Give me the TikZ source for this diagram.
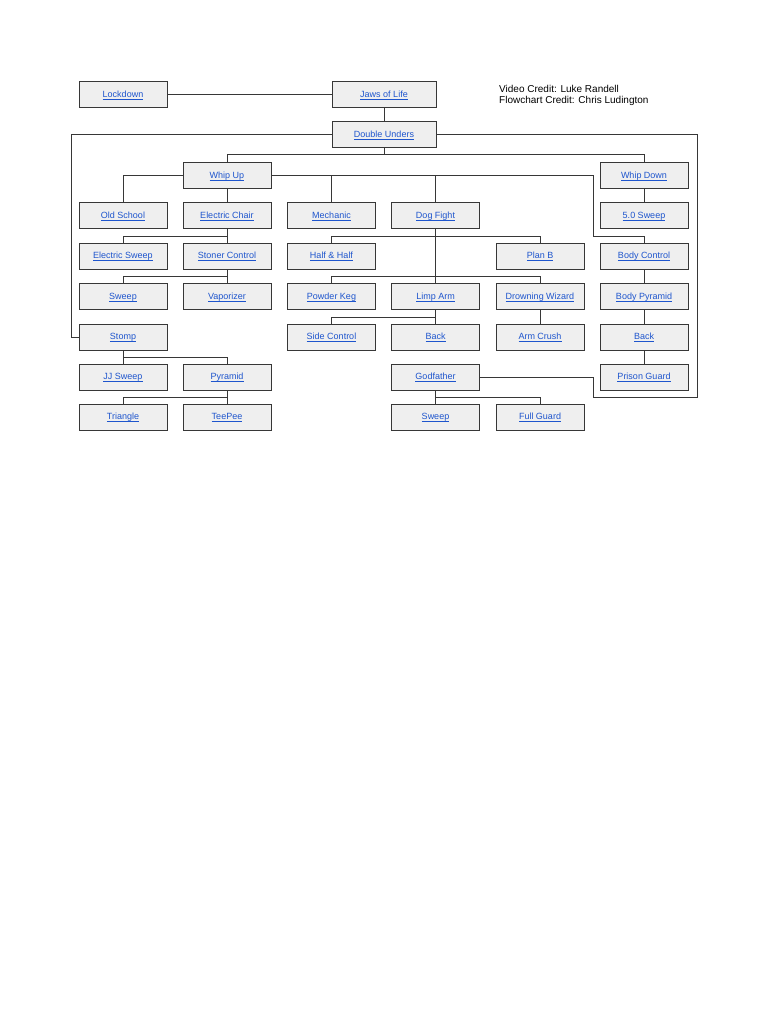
\documentclass[tikz,border=0pt]{standalone}
\usepackage{fontspec}
\setmainfont{Liberation Sans}
\definecolor{boxfill}{RGB}{239,239,239}
\definecolor{boxline}{RGB}{55,55,55}
\definecolor{conn}{RGB}{55,55,55}
\definecolor{linkblue}{RGB}{30,85,205}
\newcommand{\lnk}[1]{\setbox0\hbox{#1}\rlap{\rule[-2pt]{\wd0}{0.6pt}}\box0}
\begin{document}
\begin{tikzpicture}[x=1pt,y=-1pt,
  box/.style={draw=boxline, fill=boxfill, line width=1pt, minimum width=88pt,
    minimum height=26pt, inner sep=0pt, text=linkblue, text height=6.5pt,
    text depth=0.8pt, font=\fontsize{9}{11}\selectfont},
  wide/.style={box, minimum width=104pt},
  link/.style={draw=conn, line width=1pt}]
\useasboundingbox (0,0) rectangle (768,1024);
% nodes
\node[box]  (lock) at (123,95)    {\lnk{Lockdown}};
\node[wide] (jaws) at (384,95)    {\lnk{Jaws of Life}};
\node[wide] (du)   at (384,135)   {\lnk{Double Unders}};
\node[box]  (wu)   at (227,175.5) {\lnk{Whip Up}};
\node[box]  (wd)   at (644,175.5) {\lnk{Whip Down}};
\node[box]  (os)   at (123,216)   {\lnk{Old School}};
\node[box]  (ec)   at (227,216)   {\lnk{Electric Chair}};
\node[box]  (mech) at (331.5,216) {\lnk{Mechanic}};
\node[box]  (df)   at (435.5,216) {\lnk{Dog Fight}};
\node[box]  (s50)  at (644,216)   {\lnk{5.0 Sweep}};
\node[box]  (es)   at (123,256)   {\lnk{Electric Sweep}};
\node[box]  (sc)   at (227,256)   {\lnk{Stoner Control}};
\node[box]  (hh)   at (331.5,256) {\lnk{Half \& Half}};
\node[box]  (pb)   at (540,256)   {\lnk{Plan B}};
\node[box]  (bc)   at (644,256)   {\lnk{Body Control}};
\node[box]  (sw)   at (123,296.5) {\lnk{Sweep}};
\node[box]  (vap)  at (227,296.5) {\lnk{Vaporizer}};
\node[box]  (pk)   at (331.5,296.5) {\lnk{Powder Keg}};
\node[box]  (la)   at (435.5,296.5) {\lnk{Limp Arm}};
\node[box]  (dw)   at (540,296.5) {\lnk{Drowning Wizard}};
\node[box]  (bp)   at (644,296.5) {\lnk{Body Pyramid}};
\node[box]  (st)   at (123,337)   {\lnk{Stomp}};
\node[box]  (sdc)  at (331.5,337) {\lnk{Side Control}};
\node[box]  (bk)   at (435.5,337) {\lnk{Back}};
\node[box]  (ac)   at (540,337)   {\lnk{Arm Crush}};
\node[box]  (bk2)  at (644,337)   {\lnk{Back}};
\node[box]  (jj)   at (123,377)   {\lnk{JJ Sweep}};
\node[box]  (py)   at (227,377)   {\lnk{Pyramid}};
\node[box]  (god)  at (435.5,377) {\lnk{Godfather}};
\node[box]  (pg)   at (644,377)   {\lnk{Prison Guard}};
\node[box]  (tri)  at (123,417)   {\lnk{Triangle}};
\node[box]  (tp)   at (227,417)   {\lnk{TeePee}};
\node[box]  (sw2)  at (435.5,417) {\lnk{Sweep}};
\node[box]  (fg)   at (540,417)   {\lnk{Full Guard}};
\node[anchor=north west, inner sep=0pt, align=left,
  font=\fontsize{10}{11}\selectfont] (cred) at (499,85)
  {Video Credit: Luke Randell\\Flowchart Credit: Chris Ludington};
% helper coordinates
\coordinate (b1) at (0,155);
\coordinate (b2) at (0,236);
\coordinate (b3) at (0,276);
\coordinate (b4) at (0,317);
\coordinate (b5) at (0,357);
\coordinate (b6) at (0,397);
\coordinate (L)  at (71,0);
\coordinate (R)  at (697,397);
\coordinate (M)  at (593,397);
\coordinate (W)  at (593,236);
% connectors
\draw[link] (lock.east) -- (jaws.west);
\draw[link] (jaws.south) -- (du.north);
\draw[link] (du.south) -- (du.south |- b1);
\draw[link] (wu.north) -- (wu.north |- b1) -- (wd.north |- b1) -- (wd.north);
\draw[link] (du.west) -| (L |- st.west) -- (st.west);
\draw[link] (du.east) -| (R) -- (M) |- (god.east);
\draw[link] (wu.east) -| (W) -| (bc.north);
\draw[link] (mech.north) -- (mech.north |- wu.east);
\draw[link] (df.north) -- (df.north |- wu.east);
\draw[link] (wu.west) -| (os.north);
\draw[link] (wu.south) -- (ec.north);
\draw[link] (wd.south) -- (s50.north);
\draw[link] (bc.south) -- (bp.north);
\draw[link] (bp.south) -- (bk2.north);
\draw[link] (bk2.south) -- (pg.north);
\draw[link] (ec.south) -- (sc.north);
\draw[link] (es.north) -- (es.north |- b2) -- (ec.south |- b2);
\draw[link] (sc.south) -- (vap.north);
\draw[link] (sw.north) -- (sw.north |- b3) -- (sc.south |- b3);
\draw[link] (df.south) -- (la.north);
\draw[link] (hh.north) -- (hh.north |- b2) -- (pb.north |- b2) -- (pb.north);
\draw[link] (pk.north) -- (pk.north |- b3) -- (dw.north |- b3) -- (dw.north);
\draw[link] (la.south) -- (bk.north);
\draw[link] (sdc.north) -- (sdc.north |- b4) -- (la.south |- b4);
\draw[link] (dw.south) -- (ac.north);
\draw[link] (st.south) -- (jj.north);
\draw[link] (py.north) -- (py.north |- b5) -- (st.south |- b5);
\draw[link] (py.south) -- (tp.north);
\draw[link] (tri.north) -- (tri.north |- b6) -- (py.south |- b6);
\draw[link] (god.south) -- (sw2.north);
\draw[link] (fg.north) -- (fg.north |- b6) -- (god.south |- b6);
\end{tikzpicture}
\end{document}
